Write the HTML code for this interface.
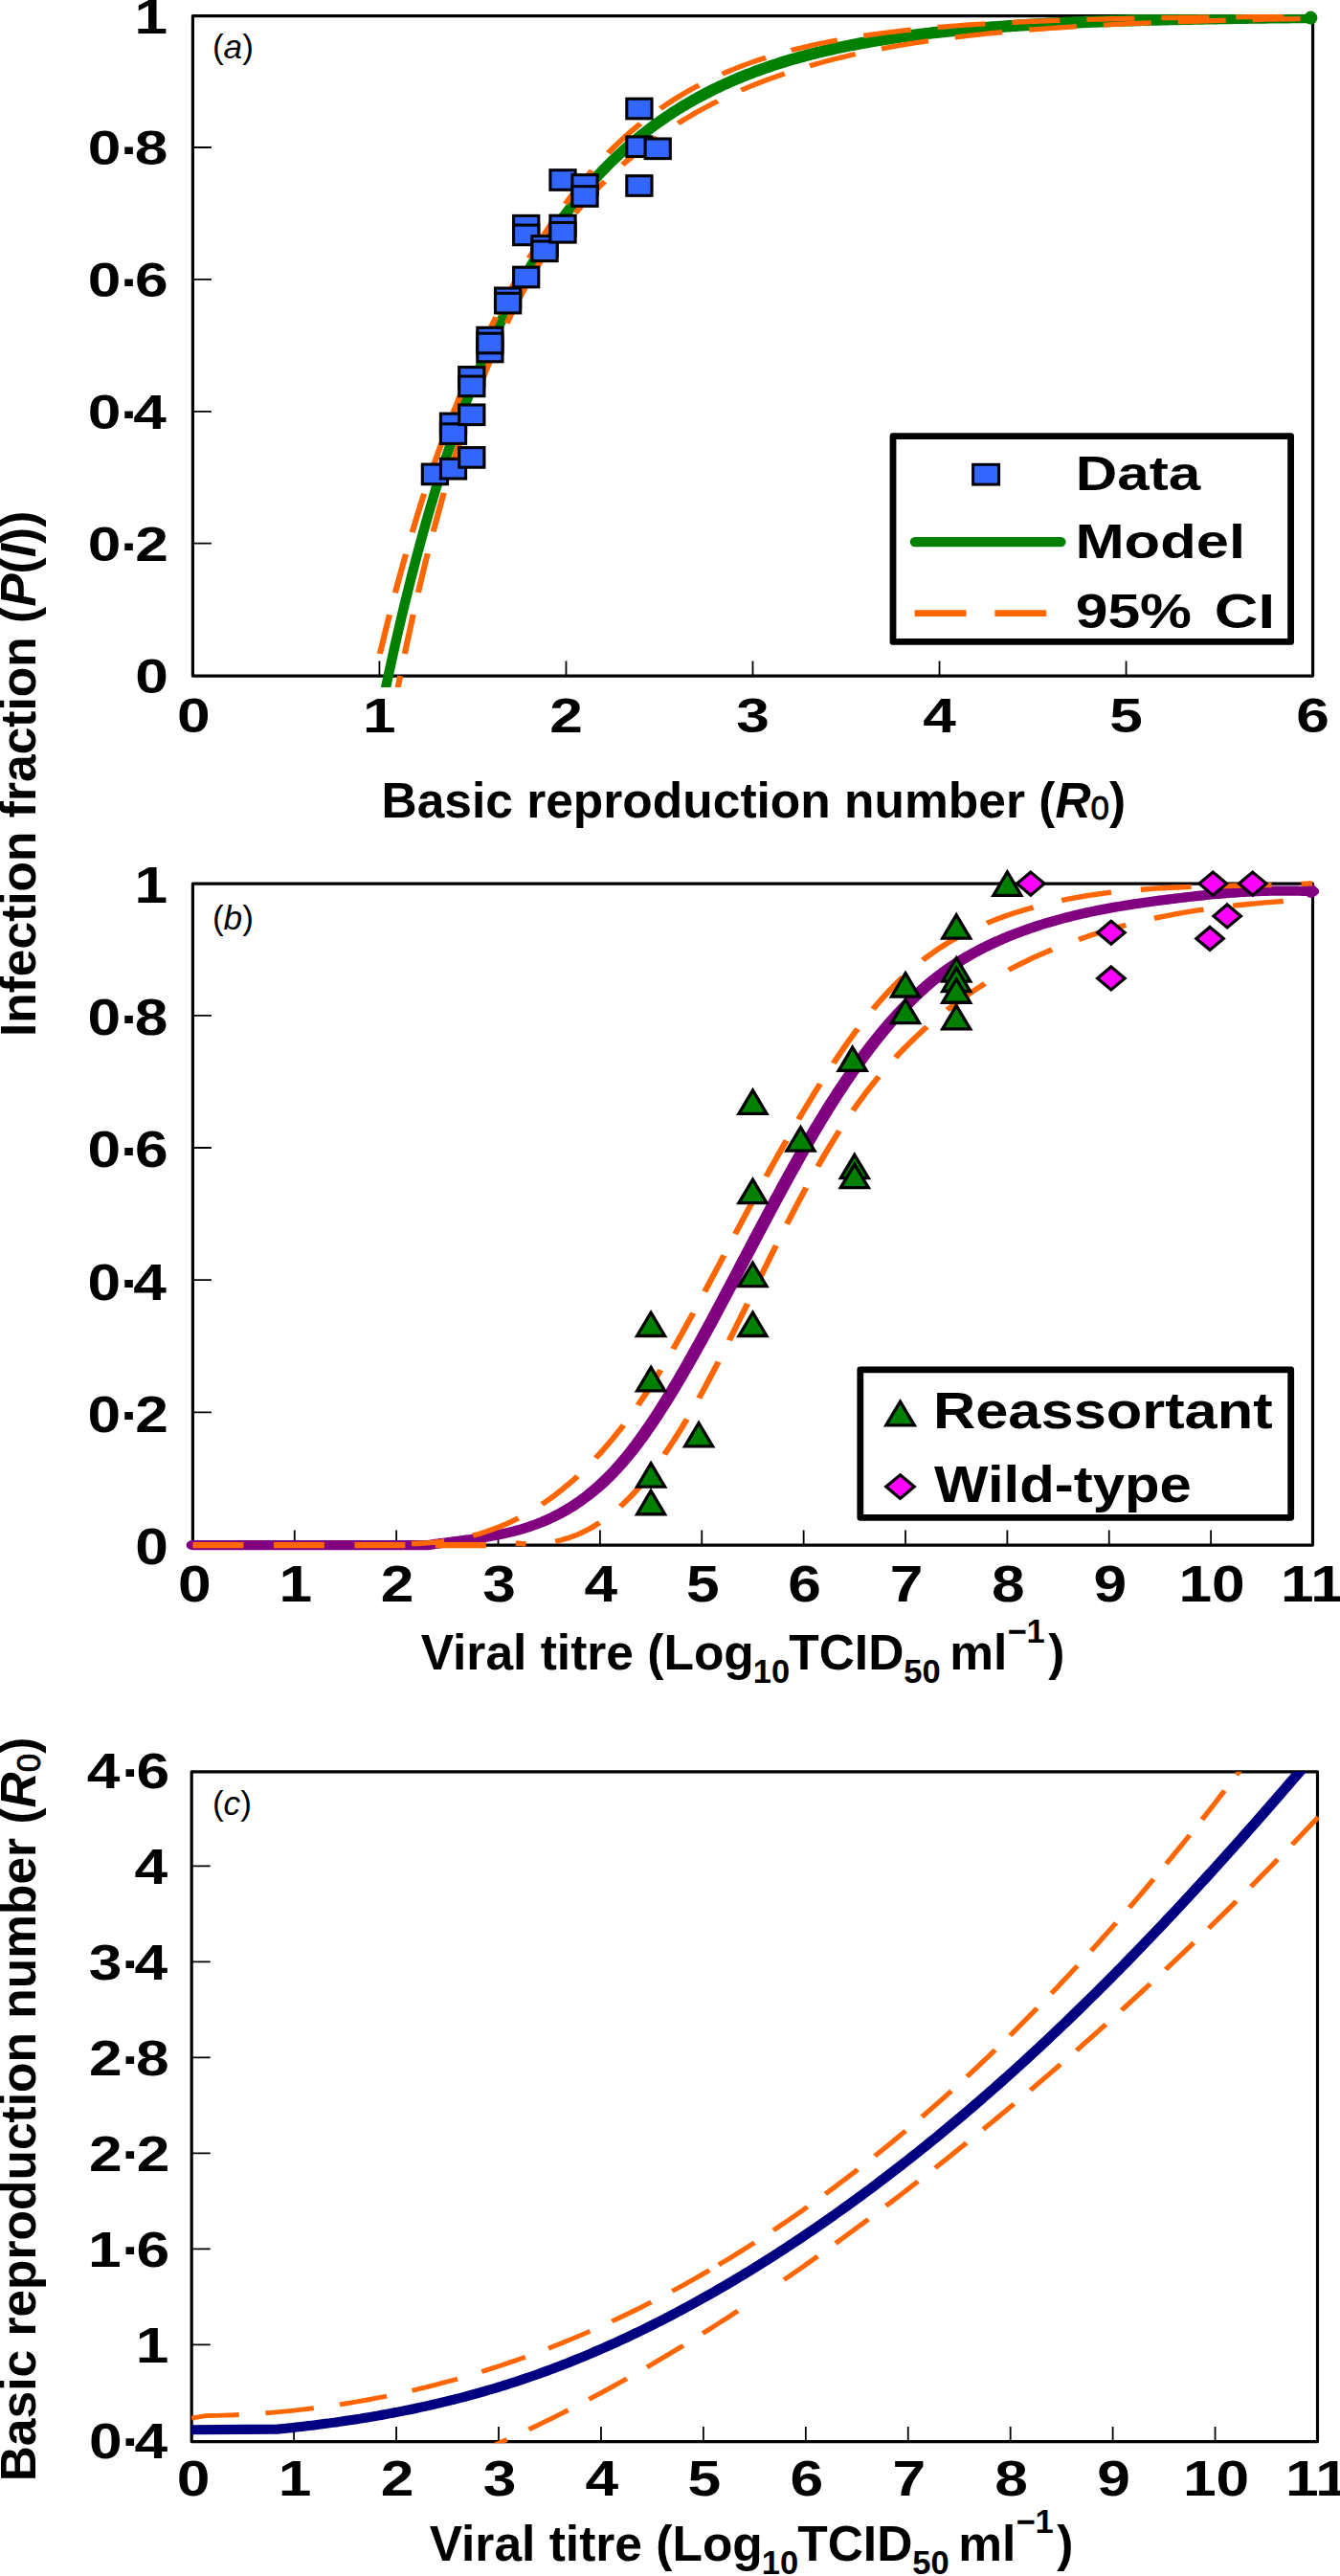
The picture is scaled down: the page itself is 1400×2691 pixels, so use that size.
<!DOCTYPE html>
<html lang="en"><head><meta charset="utf-8"><title>Figure</title>
<style>html,body{margin:0;padding:0;background:#fff}svg{display:block}text{font-family:"Liberation Sans",sans-serif;fill:#000}</style>
</head><body>
<svg width="1400" height="2691" viewBox="0 0 1400 2691">
<rect width="1400" height="2691" fill="#fff"/>
<g id="panel-a">
<path d="M201.4,567.7h19.5M201.4,429.8h19.5M201.4,291.9h19.5M201.4,154h19.5M396.43,706.1v-15.5M591.47,706.1v-15.5M786.5,706.1v-15.5M981.53,706.1v-15.5M1176.57,706.1v-15.5" stroke="#000" stroke-width="1.8" fill="none"/>
<rect x="201.4" y="16.6" width="1170.2" height="689.5" fill="none" stroke="#000" stroke-width="3.15" stroke-linejoin="round"/>
<clipPath id="clipa"><rect x="195" y="14.9" width="1185" height="703.1"/></clipPath>
<g clip-path="url(#clipa)">
<path d="M480.95,736.94L483.74,725.74L486.53,714.72L489.32,703.87L492.12,693.19L494.92,682.67L497.72,672.32L500.52,662.13L503.32,652.09L506.13,642.22L508.94,632.49L511.75,622.92L514.56,613.5L517.38,604.22L520.19,595.09L523.01,586.1L525.83,577.25L528.66,568.53L531.48,559.95L534.31,551.51L537.14,543.2L539.97,535.01L542.8,526.95L545.63,519.02L548.47,511.21L551.31,503.53L554.19,495.96L557.14,488.51L560.08,481.17L563.02,473.95L565.97,466.85L568.91,459.85L571.86,452.96L574.8,446.18L577.75,439.5L580.69,432.93L583.64,426.46L586.58,420.09L589.53,413.82L592.47,407.64L595.41,401.56L598.36,395.58L601.3,389.69L604.25,383.89L607.19,378.18L610.14,372.56L613.08,367.03L616.03,361.59L618.97,356.22L621.92,350.94L624.86,345.75L627.81,340.63L630.75,335.6L633.69,330.64L636.64,325.76L639.58,320.95L642.53,316.22L645.47,311.57L648.42,306.98L651.36,302.47L654.31,298.03L657.25,293.65L660.2,289.35L663.14,285.11L666.09,280.93L669.03,276.82L671.97,272.78L674.92,268.8L677.86,264.88L680.81,261.02L683.75,257.22L686.7,253.48L689.64,249.8L692.59,246.18L695.53,242.61L698.48,239.1L701.42,235.64L704.37,232.23L707.31,228.88L710.25,225.58L713.2,222.33L716.14,219.14L719.09,215.99L722.03,212.89L724.98,209.84L727.92,206.84L730.87,203.88L733.81,200.97L736.76,198.1L739.7,195.28L742.65,192.5L745.59,189.77L748.53,187.08L751.48,184.43L754.42,181.82L757.37,179.25L760.31,176.73L763.26,174.24L766.2,171.79L769.15,169.37L772.09,167L775.04,164.66L777.98,162.36L780.93,160.1L783.87,157.87L786.81,155.67L789.76,153.51L792.7,151.38L795.65,149.29L798.59,147.22L801.54,145.19L804.48,143.2L807.43,141.23L810.37,139.29L813.32,137.38L816.26,135.51L819.21,133.66L822.15,131.84L825.09,130.05L828.04,128.28L830.98,126.55L833.93,124.84L836.87,123.16L839.82,121.5L842.76,119.87L845.71,118.27L848.65,116.69L851.6,115.13L854.54,113.6L857.49,112.09L860.43,110.61L863.37,109.15L866.32,107.71L869.26,106.29L872.21,104.9L875.15,103.53L878.1,102.17L881.04,100.84L883.99,99.54L886.93,98.25L889.88,96.98L892.82,95.73L895.77,94.5L898.71,93.29L901.65,92.1L904.6,90.92L907.54,89.77L910.49,88.63L913.43,87.51L916.38,86.41L919.32,85.32L922.27,84.26L925.21,83.2L928.16,82.17L931.1,81.15L934.05,80.15L936.99,79.16L939.93,78.19L942.88,77.23L945.82,76.29L948.77,75.36L951.71,74.45L954.66,73.55L957.6,72.66L960.55,71.79L963.49,70.93L966.44,70.09L969.38,69.26L972.33,68.44L975.27,67.63L978.21,66.84L981.16,66.06L984.1,65.29L987.05,64.53L989.99,63.79L992.94,63.06L995.88,62.33L998.83,61.62L1001.77,60.92L1004.72,60.23L1007.66,59.56L1010.61,58.89L1013.55,58.23L1016.49,57.58L1019.44,56.95L1022.38,56.32L1025.33,55.7L1028.27,55.09L1031.22,54.5L1034.16,53.91L1037.11,53.33L1040.05,52.76L1043,52.19L1045.94,51.64L1048.88,51.1L1051.83,50.56L1054.77,50.03L1057.72,49.51L1060.66,49L1063.61,48.5L1066.55,48L1069.5,47.51L1072.44,47.03L1075.39,46.56L1078.33,46.1L1081.28,45.64L1084.22,45.19L1087.16,44.74L1090.11,44.3L1093.05,43.87L1096,43.45L1098.94,43.03L1101.89,42.62L1104.83,42.22L1107.78,41.82L1110.72,41.43L1113.67,41.04L1116.61,40.66L1119.56,40.29L1122.5,39.92L1125.44,39.56L1128.39,39.2L1131.33,38.85L1134.28,38.5L1137.22,38.16L1140.17,37.83L1143.11,37.5L1146.06,37.17L1149,36.85L1151.95,36.54L1154.89,36.23L1157.84,35.92L1160.78,35.62L1163.72,35.33L1166.67,35.04L1169.61,34.75L1172.56,34.47L1175.5,34.19L1178.45,33.92L1181.39,33.65L1184.34,33.38L1187.28,33.12L1190.23,32.86L1193.17,32.61L1196.12,32.36L1199.06,32.12L1202,31.88L1204.95,31.64L1207.89,31.41L1210.84,31.18L1213.78,30.95L1216.73,30.73L1219.67,30.51L1222.62,30.29L1225.56,30.08L1228.51,29.87L1231.45,29.66L1234.4,29.46L1237.34,29.26L1240.28,29.06L1243.23,28.87L1246.17,28.68L1249.12,28.49L1252.06,28.31L1255.01,28.12L1257.95,27.94L1260.9,27.77L1263.84,27.59L1266.79,27.42L1269.73,27.26L1272.68,27.09L1275.62,26.93L1278.56,26.77L1281.51,26.61L1284.45,26.45L1287.4,26.3L1290.34,26.15L1293.29,26L1296.23,25.85L1299.18,25.71L1302.12,25.57L1305.07,25.43L1308.01,25.29L1310.96,25.16L1313.9,25.02L1316.84,24.89L1319.79,24.76L1322.73,24.64L1325.68,24.51L1328.62,24.39L1331.57,24.27L1334.51,24.15L1337.46,24.03L1340.4,23.92L1343.35,23.8L1346.29,23.69L1349.24,23.58L1352.18,23.47L1355.12,23.37L1358.07,23.26L1361.01,23.16L1363.96,23.05L1366.9,22.95L1369.85,22.86L1372.79,22.76L1375.74,22.66L1378.68,22.57L1381.63,22.48L1384.57,22.38L1387.52,22.29L1390.46,22.21L1393.4,22.12L1396.35,22.03L1399.29,21.95L1402.24,21.87L1405.18,21.78L1408.13,21.7L1411.07,21.62L1414.02,21.55L1416.96,21.47L1419.91,21.39L1422.85,21.32L1425.8,21.25L1428.74,21.17L1431.68,21.1L1434.63,21.03L1437.57,20.96L1440.52,20.9L1443.46,20.83L1446.41,20.76L1449.35,20.7L1452.3,20.63L1455.24,20.57L1458.19,20.51L1461.13,20.45L1464.08,20.39L1467.02,20.33L1469.96,20.27L1472.91,20.22L1475.85,20.16L1478.8,20.1L1481.74,20.05L1484.69,20L1487.63,19.94L1490.58,19.89L1493.52,19.84L1496.47,19.79L1499.41,19.74L1502.35,19.69L1505.3,19.64L1508.24,19.6L1511.19,19.55L1514.13,19.5L1517.08,19.46L1520.02,19.41L1522.97,19.37L1525.91,19.33L1528.86,19.28L1531.8,19.24L1534.75,19.2L1537.69,19.16L1540.63,19.12L1543.58,19.08L1546.52,19.04L1549.47,19.01L1552.41,18.97L1555.36,18.93L1558.3,18.9L1561.25,18.86L1564.19,18.82L1567.14,18.79L1570.08,18.76L1573.03,18.72L1575.97,18.69L1578.91,18.66L1581.86,18.63L1584.8,18.59L1587.75,18.56L1590.69,18.53L1593.64,18.5L1596.58,18.47L1599.53,18.44L1602.47,18.41L1605.42,18.39L1608.36,18.36L1611.31,18.33L1614.25,18.3L1617.19,18.28L1620.14,18.25L1623.08,18.23L1626.03,18.2L1628.97,18.18L1631.92,18.15L1634.86,18.13L1637.81,18.1L1640.75,18.08L1643.7,18.06L1646.64,18.03L1649.59,18.01L1652.53,17.99" transform="scale(0.83,1)" fill="none" stroke="#008000" stroke-width="12.3" stroke-linecap="butt" stroke-linejoin="round"/>
<path d="M330.75,683L331.31,680.2L332.87,672.46L334.43,664.8L335.98,657.24L337.54,649.76L339.11,642.36L339.14,642.19M344.08,619.38L345.37,613.62L346.93,606.64L348.49,599.74L350.07,592.91L351.63,586.17L353.2,579.5L353.38,578.77M358.87,556.09L359.48,553.57L361.06,547.28L362.63,541.05L365.78,528.81L367.35,522.79L368.93,516.84L369.23,515.73M375.43,493.24L376.93,488.09L378.56,482.53L380.19,477.04L383.46,466.23L385.09,460.92L386.73,455.67L387.46,453.35M394.61,431.14L394.89,430.27L398.16,420.51L399.79,415.71L403.06,406.26L404.69,401.62L407.96,392.48L408.23,391.76M416.37,369.89L417.76,366.26L421.03,357.89L422.66,353.78L425.93,345.69L427.56,341.7L430.83,333.87L431.94,331.25M433.06,328.63L435.73,322.43L437.36,318.7L440.63,311.36L442.27,307.75L445.53,300.64L447.17,297.14L450.23,290.67M460.6,269.77L463.5,264.16L466.77,257.93L470.03,251.8L471.67,248.77L474.93,242.79L478.2,236.91L480.36,233.09M492.22,212.99L494.53,209.24L497.8,204.05L501.07,198.99L505.97,191.62L509.23,186.85L512.5,182.2L515.3,178.31M529.52,159.82L533.73,154.74L537,150.93L541.9,145.39L545.17,141.82L550.07,136.64L553.33,133.31L557.62,129.08M574.92,113.45L579.47,109.71L584.37,105.84L589.27,102.13L594.17,98.58L599.08,95.17L603.98,91.9L608.58,88.94M628.8,77.3L633.38,74.93L639.91,71.71L644.81,69.41L651.34,66.5L656.24,64.42L662.78,61.78L666.78,60.23M688.83,52.61L693.81,51.09L698.71,49.65L705.24,47.82L711.77,46.09L718.31,44.46L723.21,43.3L729.1,41.97M751.98,37.38L757.52,36.41L762.42,35.58L768.95,34.53L775.48,33.54L782.02,32.6L786.92,31.93L793.17,31.12M816.35,28.46L822.85,27.81L827.75,27.34L834.28,26.75L840.82,26.19L847.35,25.66L852.25,25.28L857.86,24.86M881.14,23.35L886.55,23.04L893.08,22.68L899.62,22.34L904.52,22.1L911.06,21.8L917.59,21.51L922.76,21.29M946.08,20.43L951.89,20.24L956.79,20.09L963.33,19.9L969.86,19.71L976.39,19.54L981.29,19.42L987.73,19.27M1011.06,18.77L1017.23,18.66L1022.12,18.57L1028.66,18.47L1035.19,18.36L1041.72,18.26L1046.62,18.2L1052.72,18.11M1076.05,17.83L1082.57,17.77L1087.47,17.72L1094,17.66L1100.53,17.6L1107.07,17.54L1111.97,17.5L1117.71,17.46M1141.04,17.3L1141.37,17.3L1143,17.29" transform="scale(1.2,1)" fill="none" stroke="#FF6600" stroke-width="5.2"/>
<path d="M342.47,742.67L343.98,733.17L345.5,723.8L347.03,714.55L348.45,706M352.38,683L353.11,678.77L354.63,670.12L356.17,661.59L357.69,653.17L359.22,644.87L359.76,641.99M364.11,619.07L365.34,612.73L366.88,604.97L368.42,597.31L369.95,589.75L371.48,582.29L372.33,578.22M377.22,555.41L377.64,553.44L379.18,546.47L380.73,539.6L382.28,532.81L383.82,526.12L385.36,519.52L386.48,514.78M392.08,492.13L393.21,487.82L394.82,481.73L396.43,475.73L399.64,463.97L401.26,458.21L402.87,452.53L403.03,451.93M419.28,398.84L420.56,394.93L423.78,385.36L425.39,380.68L427,376.06L428.61,371.51L431.83,362.59L432.97,359.49M441.32,337.7L443.09,333.28L444.7,329.32L447.92,321.57L451.13,314.03L454.35,306.71L455.96,303.12L457.67,299.38M467.79,278.36L470.44,273.21L473.66,267.16L476.88,261.3L480.09,255.62L483.32,250.12L486.53,244.79L488.22,242.06M501.03,222.57L504.23,218.04L509.06,211.4L512.28,207.12L515.49,202.94L518.71,198.87L523.54,192.94L526.4,189.53M541.97,172.15L546.07,167.89L550.89,163.02L555.72,158.32L558.93,155.28L563.77,150.84L568.59,146.54L572.15,143.46M590.35,128.86L594.33,125.89L600.77,121.27L605.6,117.94L610.43,114.71L615.25,111.59L621.68,107.58L624.92,105.63M645.3,94.28L650.65,91.55L655.48,89.17L661.91,86.11L666.74,83.9L673.17,81.07L678,79.02L683.15,76.91M705,68.72L710.18,66.95L715.01,65.35L721.44,63.3L727.88,61.34L734.32,59.45L739.14,58.09L744.84,56.55M767.49,50.94L772.93,49.72L779.37,48.33L785.8,46.99L790.63,46.03L797.07,44.79L803.5,43.61L808.33,42.75M831.37,39.03L837.29,38.16L842.12,37.47L848.56,36.6L854.99,35.76L861.43,34.95L866.25,34.37L872.68,33.62M895.89,31.18L901.65,30.63L908.08,30.04L914.53,29.48L919.35,29.07L925.78,28.55L932.23,28.05L937.4,27.66M960.68,26.07L966.01,25.74L972.45,25.35L978.88,24.99L983.71,24.72L990.14,24.38L996.58,24.05L1002.28,23.77M1025.6,22.74L1031.98,22.49L1036.81,22.3L1043.24,22.06L1049.67,21.83L1056.12,21.61L1060.94,21.45L1067.23,21.25M1090.56,20.58L1096.34,20.43L1102.78,20.27L1109.21,20.12L1114.04,20.01L1120.47,19.86L1126.91,19.73L1132.22,19.62" transform="scale(1.2,1)" fill="none" stroke="#FF6600" stroke-width="5.2"/>
</g>
<circle cx="1369.4" cy="18.6" r="7" fill="#008000"/>
<defs><rect id="sq" x="-13.1" y="-10.3" width="26.2" height="20.6" fill="#3366FF" stroke="#000" stroke-width="3.1"/></defs>
<use href="#sq" x="454.4" y="495.4"/><use href="#sq" x="473.5" y="489.7"/><use href="#sq" x="473.5" y="442.4"/><use href="#sq" x="473.5" y="453.1"/><use href="#sq" x="492.8" y="477.9"/><use href="#sq" x="492.8" y="433.3"/><use href="#sq" x="492.8" y="393.9"/><use href="#sq" x="492.8" y="403.4"/><use href="#sq" x="511.9" y="352.6"/><use href="#sq" x="511.9" y="367.5"/><use href="#sq" x="511.9" y="358.5"/><use href="#sq" x="530.6" y="311.3"/><use href="#sq" x="530.6" y="316.6"/><use href="#sq" x="549.7" y="289.5"/><use href="#sq" x="549.7" y="235.7"/><use href="#sq" x="549.7" y="245.4"/><use href="#sq" x="569" y="257"/><use href="#sq" x="569" y="262.3"/><use href="#sq" x="588" y="188"/><use href="#sq" x="588" y="235.5"/><use href="#sq" x="588" y="242.8"/><use href="#sq" x="611" y="193"/><use href="#sq" x="611" y="205"/><use href="#sq" x="667.9" y="113.5"/><use href="#sq" x="667.9" y="153.2"/><use href="#sq" x="667.9" y="194"/><use href="#sq" x="687.2" y="155.3"/>
<rect x="933" y="455.7" width="415.6" height="214.7" fill="#fff" stroke="#000" stroke-width="6.8" stroke-linejoin="round"/>
<rect x="1016.6" y="485.3" width="27" height="20.8" fill="#3366FF" stroke="#000" stroke-width="3"/>
<path d="M955.9,566.1H1108.4" stroke="#008000" stroke-width="10.4" stroke-linecap="round"/>
<path d="M955.6,640.6H1009.5M1039.4,640.6H1093.2" stroke="#FF6600" stroke-width="6.6"/>
<text transform="translate(1123.68,511.9) scale(1.195,1)" font-size="50.4" font-weight="bold">Data</text>
<text transform="translate(1123.4,583.4) scale(1.220,1)" font-size="50.4" font-weight="bold">Model</text>
<text transform="translate(1123.68,655.9) scale(1.203,1)" font-size="50.4" font-weight="bold">95%</text>
<text transform="translate(1268.67,655.9) scale(1.257,1)" font-size="50.4" font-weight="bold">CI</text>
<text transform="translate(141.34,724) scale(1.240,1)" font-size="50.2" font-weight="bold">0</text>
<text transform="translate(141.34,586.1) scale(1.240,1)" font-size="50.2" font-weight="bold">2</text>
<text transform="translate(125.9,587.6) scale(1.224,1)" font-size="50.2" font-weight="bold">·</text>
<text transform="translate(91.64,586.1) scale(1.240,1)" font-size="50.2" font-weight="bold">0</text>
<text transform="translate(139.16,448.2) scale(1.240,1)" font-size="50.2" font-weight="bold">4</text>
<text transform="translate(125.9,449.7) scale(1.224,1)" font-size="50.2" font-weight="bold">·</text>
<text transform="translate(91.64,448.2) scale(1.240,1)" font-size="50.2" font-weight="bold">0</text>
<text transform="translate(141.03,310.3) scale(1.240,1)" font-size="50.2" font-weight="bold">6</text>
<text transform="translate(125.9,311.8) scale(1.224,1)" font-size="50.2" font-weight="bold">·</text>
<text transform="translate(91.64,310.3) scale(1.240,1)" font-size="50.2" font-weight="bold">0</text>
<text transform="translate(140.72,172.4) scale(1.240,1)" font-size="50.2" font-weight="bold">8</text>
<text transform="translate(125.9,173.9) scale(1.224,1)" font-size="50.2" font-weight="bold">·</text>
<text transform="translate(91.64,172.4) scale(1.240,1)" font-size="50.2" font-weight="bold">0</text>
<text transform="translate(140.41,34.5) scale(1.240,1)" font-size="50.2" font-weight="bold">1</text>
<text transform="translate(185.09,765) scale(1.240,1)" font-size="50.2" font-weight="bold">0</text>
<text transform="translate(379.12,765) scale(1.240,1)" font-size="50.2" font-weight="bold">1</text>
<text transform="translate(574.16,765) scale(1.240,1)" font-size="50.2" font-weight="bold">2</text>
<text transform="translate(769.19,765) scale(1.240,1)" font-size="50.2" font-weight="bold">3</text>
<text transform="translate(964.22,765) scale(1.240,1)" font-size="50.2" font-weight="bold">4</text>
<text transform="translate(1159.26,765) scale(1.240,1)" font-size="50.2" font-weight="bold">5</text>
<text transform="translate(1354.29,765) scale(1.240,1)" font-size="50.2" font-weight="bold">6</text>
<text x="221.9" y="60.5" font-size="35.2">(<tspan font-style="italic">a</tspan>)</text>
<text transform="translate(398.45,853.5) scale(1,1.0)" font-size="51.5" font-weight="bold">Basic reproduction number (<tspan font-style="italic">R</tspan><tspan font-size="35" font-weight="normal" stroke="#000" stroke-width="0.8" dy="2.4">0</tspan><tspan dy="-2.4">)</tspan></text>
</g>
<text transform="translate(37.4,1083.05) rotate(-90) scale(1,1.0)" font-size="51.5" font-weight="bold">Infection fraction (<tspan font-style="italic">P</tspan>(<tspan font-style="italic">I</tspan>))</text>
<g id="panel-b">
<path d="M201.4,1475.4h19.5M201.4,1337.2h19.5M201.4,1199h19.5M201.4,1060.8h19.5M307.77,1614.1v-15.5M414.15,1614.1v-15.5M520.52,1614.1v-15.5M626.89,1614.1v-15.5M733.26,1614.1v-15.5M839.64,1614.1v-15.5M946.01,1614.1v-15.5M1052.38,1614.1v-15.5M1158.75,1614.1v-15.5M1265.13,1614.1v-15.5" stroke="#000" stroke-width="1.8" fill="none"/>
<rect x="201.4" y="923.1" width="1170.1" height="691" fill="none" stroke="#000" stroke-width="3.15" stroke-linejoin="round"/>
<path d="M149.19,1614.1L329.48,1614.1L331.45,1614.04L333.41,1613.64L335.38,1613.24L337.35,1612.86L339.31,1612.49L341.28,1612.12L343.25,1611.76L345.21,1611.41L347.18,1611.06L349.15,1610.72L351.11,1610.37L353.08,1610.03L355.05,1609.69L357.01,1609.34L358.98,1608.99L360.94,1608.63L362.91,1608.27L364.88,1607.91L366.84,1607.53L368.81,1607.15L370.78,1606.75L372.74,1606.34L374.71,1605.92L376.68,1605.49L378.64,1605.03L380.61,1604.57L382.58,1604.08L384.54,1603.57L386.51,1603.04L388.48,1602.5L390.44,1601.92L392.41,1601.32L394.37,1600.7L396.34,1600.05L398.31,1599.37L400.27,1598.66L402.24,1597.92L404.21,1597.15L406.17,1596.35L408.14,1595.51L410.11,1594.63L412.07,1593.72L414.04,1592.77L416.01,1591.78L417.97,1590.74L419.94,1589.67L421.91,1588.55L423.87,1587.39L425.84,1586.18L427.8,1584.93L429.77,1583.62L431.74,1582.27L433.7,1580.87L435.67,1579.41L437.64,1577.9L439.6,1576.34L441.57,1574.72L443.54,1573.04L445.5,1571.3L447.47,1569.51L449.44,1567.65L451.4,1565.73L453.37,1563.75L455.34,1561.7L457.3,1559.59L459.27,1557.41L461.23,1555.16L463.2,1552.84L465.17,1550.45L467.13,1547.99L469.1,1545.45L471.07,1542.84L473.03,1540.15L475,1537.39L476.97,1534.55L478.93,1531.62L480.9,1528.62L482.87,1525.54L484.83,1522.37L486.8,1519.12L488.77,1515.79L490.73,1512.38L492.7,1508.89L494.66,1505.33L496.63,1501.7L498.6,1497.99L500.56,1494.22L502.53,1490.37L504.5,1486.47L506.46,1482.5L508.43,1478.46L510.4,1474.37L512.36,1470.22L514.33,1466.01L516.3,1461.75L518.26,1457.44L520.23,1453.07L522.2,1448.66L524.16,1444.2L526.13,1439.69L528.09,1435.14L530.06,1430.55L532.03,1425.91L533.99,1421.24L535.96,1416.54L537.93,1411.8L539.89,1407.03L541.86,1402.22L543.83,1397.39L545.79,1392.53L547.76,1387.65L549.73,1382.74L551.69,1377.81L553.66,1372.86L555.62,1367.89L557.59,1362.91L559.56,1357.92L561.52,1352.91L563.49,1347.89L565.46,1342.86L567.42,1337.82L569.39,1332.78L571.36,1327.73L573.32,1322.68L575.29,1317.63L577.26,1312.58L579.22,1307.53L581.19,1302.48L583.16,1297.43L585.12,1292.39L587.09,1287.36L589.05,1282.34L591.02,1277.32L592.99,1272.32L594.95,1267.33L596.92,1262.35L598.89,1257.39L600.85,1252.45L602.82,1247.53L604.79,1242.62L606.75,1237.74L608.72,1232.88L610.69,1228.05L612.65,1223.24L614.62,1218.46L616.59,1213.71L618.55,1208.99L620.52,1204.3L622.48,1199.64L624.45,1195.02L626.42,1190.44L628.38,1185.89L630.35,1181.38L632.32,1176.92L634.28,1172.49L636.25,1168.11L638.22,1163.77L640.18,1159.48L642.15,1155.24L644.12,1151.04L646.08,1146.89L648.05,1142.79L650.02,1138.74L651.98,1134.73L653.95,1130.77L655.91,1126.86L657.88,1122.99L659.85,1119.18L661.81,1115.41L663.78,1111.69L665.75,1108.02L667.71,1104.39L669.68,1100.82L671.65,1097.3L673.61,1093.82L675.58,1090.4L677.55,1087.02L679.51,1083.7L681.48,1080.42L683.45,1077.2L685.41,1074.02L687.38,1070.9L689.34,1067.82L691.31,1064.8L693.28,1061.83L695.24,1058.91L697.21,1056.04L699.18,1053.22L701.14,1050.46L703.11,1047.75L705.08,1045.08L707.04,1042.47L709.01,1039.92L710.98,1037.41L712.94,1034.96L714.91,1032.57L716.88,1030.22L718.84,1027.93L720.81,1025.69L722.77,1023.51L724.74,1021.38L726.71,1019.29L728.67,1017.27L730.64,1015.28L732.61,1013.35L734.57,1011.47L736.54,1009.63L738.51,1007.84L740.47,1006.09L742.44,1004.38L744.41,1002.72L746.37,1001.09L748.34,999.51L750.3,997.96L752.27,996.45L754.24,994.98L756.2,993.55L758.17,992.14L760.14,990.77L762.1,989.44L764.07,988.13L766.04,986.86L768,985.61L769.97,984.39L771.94,983.2L773.9,982.03L775.87,980.89L777.84,979.77L779.8,978.67L781.77,977.6L783.73,976.54L785.7,975.51L787.67,974.49L789.63,973.49L791.6,972.52L793.57,971.56L795.53,970.62L797.5,969.7L799.47,968.79L801.43,967.91L803.4,967.04L805.37,966.19L807.33,965.36L809.3,964.54L811.27,963.74L813.23,962.95L815.2,962.18L817.16,961.43L819.13,960.69L821.1,959.97L823.06,959.26L825.03,958.57L827,957.89L828.96,957.22L830.93,956.57L832.9,955.93L834.86,955.31L836.83,954.69L838.8,954.09L840.76,953.51L842.73,952.93L844.7,952.37L846.66,951.82L848.63,951.28L850.59,950.75L852.56,950.23L854.53,949.72L856.49,949.22L858.46,948.73L860.43,948.25L862.39,947.78L864.36,947.32L866.33,946.87L868.29,946.43L870.26,945.99L872.23,945.57L874.19,945.15L876.16,944.73L878.13,944.33L880.09,943.93L882.06,943.54L884.02,943.16L885.99,942.78L887.96,942.41L889.92,942.04L891.89,941.68L893.86,941.32L895.82,940.97L897.79,940.62L899.76,940.28L901.72,939.94L903.69,939.6L905.66,939.27L907.62,938.94L909.59,938.62L911.56,938.29L913.52,937.98L915.49,937.66L917.45,937.36L919.42,937.05L921.39,936.75L923.35,936.46L925.32,936.17L927.29,935.89L929.25,935.61L931.22,935.34L933.19,935.07L935.15,934.81L937.12,934.56L939.09,934.31L941.05,934.06L943.02,933.83L944.99,933.6L946.95,933.38L948.92,933.16L950.88,932.96L952.85,932.76L954.82,932.56L956.78,932.38L958.75,932.2L960.72,932.03L962.68,931.87L964.65,931.72L966.62,931.57L968.58,931.44L970.55,931.31L972.52,931.19L974.48,931.09L976.45,930.99L978.41,930.9L980.38,930.82L982.35,930.75L984.31,930.69L986.28,930.64L988.25,930.6L990.21,930.57L992.18,930.55L994.15,930.54L996.11,930.55L998.08,930.56L1000.05,930.59L1002.01,930.63L1003.98,930.67L1005.95,930.74L1007.91,930.81L1009.88,930.89L1011.84,930.99L1013.81,931.1L1015.78,931.22" transform="scale(1.35,1)" fill="none" stroke="#800080" stroke-width="10.2" stroke-linecap="round" stroke-linejoin="round"/>
<circle cx="1369.6" cy="930.9" r="7" fill="#800080"/>
<path d="M201.4,1614.1L254.4,1614.1M285.9,1614.1L338.9,1614.1M370.4,1614.1L423.4,1614.1M454.9,1614.1L507.9,1614.1" transform="scale(1.0,1)" fill="none" stroke="#FF6600" stroke-width="6.4"/>
<path d="M364.41,1612.58L368.97,1612.44L373.55,1612.21L378.12,1611.88L380.4,1611.67L384.97,1611.19L389.54,1610.61L393.38,1610.03M418.81,1604.09L423.81,1602.45L428.39,1600.81L435.24,1598.08L442.09,1595.01L448.95,1591.59L453.52,1589.1L458.96,1585.93M479.89,1571.43L483.23,1568.77L487.8,1564.95L492.36,1560.94L499.22,1554.54L503.79,1550.03L508.36,1545.3L511.31,1542.13M527.46,1523.18L531.21,1518.38L533.49,1515.37L538.07,1509.19L542.64,1502.76L547.2,1496.09L549.49,1492.66L552.02,1488.8M564.92,1467.87L565.48,1466.9L570.05,1458.96L572.34,1454.89L576.91,1446.54L579.19,1442.28L583.76,1433.56L585.02,1431.13M595.95,1409.28L597.47,1406.15L602.04,1396.65L604.33,1391.84L606.62,1386.99L608.9,1382.12L613.47,1372.27L613.79,1371.58M623.91,1349.4L624.9,1347.22L629.47,1337.08L631.75,1332L634.03,1326.9L636.32,1321.8L640.89,1311.58L640.97,1311.4M650.93,1289.16L652.31,1286.09L654.6,1281.02L656.88,1275.96L661.46,1265.87L663.74,1260.85L666.03,1255.84L668.14,1251.21M678.37,1229.08L679.74,1226.15L684.31,1216.41L686.58,1211.58L688.87,1206.76L691.16,1201.97L695.73,1192.47L696.25,1191.39M707.03,1169.47L707.15,1169.21L711.72,1160.11L714.01,1155.61L718.58,1146.72L720.86,1142.32L725.43,1133.65L726.15,1132.3M737.91,1110.8L739.14,1108.6L743.71,1100.6L746,1096.67L750.57,1088.96L752.86,1085.18L757.42,1077.78L759.36,1074.71M773.02,1054.19L775.7,1050.4L780.27,1044.16L784.84,1038.17L787.13,1035.28L791.69,1029.69L796.27,1024.34L799.32,1020.92M816.95,1003.11L821.41,999.12L828.25,993.34L832.83,989.73L837.4,986.29L841.97,983.03L848.82,978.44L851.38,976.82M873.84,964.38L878.53,962.15L883.09,960.07L889.95,957.11L896.81,954.34L903.66,951.74L908.23,950.1L914.91,947.84M939.97,940.63L944.79,939.46L951.64,937.91L958.5,936.49L965.36,935.18L972.21,933.99L979.07,932.91L983.9,932.21M1009.97,929.21L1015.63,928.71L1022.48,928.18L1029.34,927.7L1036.19,927.29L1043.04,926.93L1049.9,926.61L1054.77,926.41M1081.03,925.59L1086.46,925.46L1093.31,925.3L1100.17,925.14L1107.03,924.98L1113.88,924.81L1120.74,924.62L1125.92,924.46M1152.17,923.4L1152.72,923.37L1155.01,923.25L1157.3,923.12L1159.58,922.98L1161.86,922.84" transform="scale(1.18,1)" fill="none" stroke="#FF6600" stroke-width="5.4"/>
<path d="M456.61,1611.99L458.63,1612.23L460.65,1612.43L462.67,1612.59L464.69,1612.72L465.69,1612.76M491.72,1610.23L497.03,1608.76L503.08,1606.66L509.15,1604.08L513.19,1602.09L519.25,1598.68L525.31,1594.75L530.81,1590.7M549.32,1573.69L551.58,1571.23L555.63,1566.62L559.67,1561.73L563.71,1556.55L567.75,1551.1L571.8,1545.37L575.28,1540.21M588.27,1519.33L592,1512.86L594.03,1509.27L598.07,1501.92L600.08,1498.15L604.13,1490.46L606.15,1486.53L608.19,1482.51M618.87,1460.56L620.3,1457.54L624.34,1448.81L626.36,1444.39L628.37,1439.91L630.4,1435.4L634.44,1426.27L636.05,1422.6M645.68,1400.24L646.57,1398.15L650.6,1388.59L652.63,1383.78L654.64,1378.96L656.67,1374.13L660.71,1364.43L661.77,1361.88M671.1,1339.41L672.83,1335.24L676.87,1325.54L678.9,1320.7L680.92,1315.87L682.94,1311.06L686.98,1301.48L687.17,1301.05M696.76,1278.68L697.08,1277.93L701.13,1268.68L703.14,1264.11L707.19,1255.04L709.21,1250.56L713.25,1241.7L713.74,1240.64M724.14,1218.57L725.37,1216.03L729.42,1207.81L731.44,1203.77L735.47,1195.84L737.5,1191.94L741.54,1184.31L743.14,1181.35M755.25,1160.02L757.7,1155.9L761.75,1149.32L765.79,1142.93L767.81,1139.81L771.86,1133.71L775.9,1127.78L778.08,1124.66M792.86,1104.79L796.1,1100.71L800.14,1095.76L804.19,1090.95L810.25,1084L814.29,1079.53L818.33,1075.18L820.76,1072.62M838.66,1055.03L842.58,1051.45L848.64,1046.11L852.69,1042.67L858.75,1037.7L862.79,1034.5L868.85,1029.86L872,1027.53M893.08,1013.21L897.14,1010.69L903.2,1007.06L909.26,1003.58L915.33,1000.24L921.39,997.04L927.45,993.97L931.51,991.98M955.08,981.38L959.79,979.46L965.85,977.07L971.91,974.78L979.99,971.87L986.06,969.8L992.12,967.82L996.86,966.33M1021.97,959.3L1026.47,958.19L1034.55,956.29L1040.62,954.95L1046.68,953.67L1052.75,952.47L1060.82,950.96L1065.74,950.1M1091.65,946.18L1097.2,945.46L1105.28,944.49L1111.35,943.82L1117.41,943.18L1123.47,942.59L1131.55,941.85L1136.26,941.45" transform="scale(1.18,1)" fill="none" stroke="#FF6600" stroke-width="5.4"/>
<path d="M680.08,1371.11L694.58,1395.51H665.58Z" fill="#008000" stroke="#000" stroke-width="3.3"/>
<path d="M680.08,1428.46L694.58,1452.86H665.58Z" fill="#008000" stroke="#000" stroke-width="3.3"/>
<path d="M680.08,1528.65L694.58,1553.05H665.58Z" fill="#008000" stroke="#000" stroke-width="3.3"/>
<path d="M680.08,1557.33L694.58,1581.73H665.58Z" fill="#008000" stroke="#000" stroke-width="3.3"/>
<path d="M730.07,1486.5L744.57,1510.9H715.57Z" fill="#008000" stroke="#000" stroke-width="3.3"/>
<path d="M786.45,1138.93L800.95,1163.33H771.95Z" fill="#008000" stroke="#000" stroke-width="3.3"/>
<path d="M786.45,1232.21L800.95,1256.62H771.95Z" fill="#008000" stroke="#000" stroke-width="3.3"/>
<path d="M786.45,1319.28L800.95,1343.68H771.95Z" fill="#008000" stroke="#000" stroke-width="3.3"/>
<path d="M786.45,1371.11L800.95,1395.51H771.95Z" fill="#008000" stroke="#000" stroke-width="3.3"/>
<path d="M836.45,1177.63L850.95,1202.03H821.95Z" fill="#008000" stroke="#000" stroke-width="3.3"/>
<path d="M892.82,1206.3L907.32,1230.7H878.32Z" fill="#008000" stroke="#000" stroke-width="3.3"/>
<path d="M892.82,1216.32L907.32,1240.72H878.32Z" fill="#008000" stroke="#000" stroke-width="3.3"/>
<path d="M890.7,1094.01L905.2,1118.41H876.2Z" fill="#008000" stroke="#000" stroke-width="3.3"/>
<path d="M946.01,1016.62L960.51,1041.02H931.51Z" fill="#008000" stroke="#000" stroke-width="3.3"/>
<path d="M946.01,1044.26L960.51,1068.66H931.51Z" fill="#008000" stroke="#000" stroke-width="3.3"/>
<path d="M999.2,955.81L1013.7,980.22H984.7Z" fill="#008000" stroke="#000" stroke-width="3.3"/>
<path d="M999.2,1000.73L1013.7,1025.13H984.7Z" fill="#008000" stroke="#000" stroke-width="3.3"/>
<path d="M999.2,1011.1L1013.7,1035.5H984.7Z" fill="#008000" stroke="#000" stroke-width="3.3"/>
<path d="M999.2,1022.84L1013.7,1047.24H984.7Z" fill="#008000" stroke="#000" stroke-width="3.3"/>
<path d="M999.2,1050.48L1013.7,1074.88H984.7Z" fill="#008000" stroke="#000" stroke-width="3.3"/>
<path d="M1052.38,910.9L1066.88,935.3H1037.88Z" fill="#008000" stroke="#000" stroke-width="3.3"/>
<path d="M1076.85,911.1L1091.1,923.1L1076.85,935.1L1062.6,923.1Z" fill="#FF00FF" stroke="#000" stroke-width="3.2"/>
<path d="M1160.88,962.23L1175.13,974.23L1160.88,986.23L1146.63,974.23Z" fill="#FF00FF" stroke="#000" stroke-width="3.2"/>
<path d="M1160.88,1009.91L1175.13,1021.91L1160.88,1033.91L1146.63,1021.91Z" fill="#FF00FF" stroke="#000" stroke-width="3.2"/>
<path d="M1267.25,911.1L1281.5,923.1L1267.25,935.1L1253,923.1Z" fill="#FF00FF" stroke="#000" stroke-width="3.2"/>
<path d="M1308.74,911.1L1322.99,923.1L1308.74,935.1L1294.49,923.1Z" fill="#FF00FF" stroke="#000" stroke-width="3.2"/>
<path d="M1282.15,944.96L1296.4,956.96L1282.15,968.96L1267.9,956.96Z" fill="#FF00FF" stroke="#000" stroke-width="3.2"/>
<path d="M1264.06,968.45L1278.31,980.45L1264.06,992.45L1249.81,980.45Z" fill="#FF00FF" stroke="#000" stroke-width="3.2"/>
<rect x="898.8" y="1430.9" width="449.9" height="154.4" fill="#fff" stroke="#000" stroke-width="6.8" stroke-linejoin="round"/>
<path d="M940.5,1464.2L955.25,1488.8H925.75Z" fill="#008000" stroke="#000" stroke-width="3.3"/>
<path d="M940.5,1540.8L955.25,1553.1L940.5,1565.4L925.75,1553.1Z" fill="#FF00FF" stroke="#000" stroke-width="3.2"/>
<text transform="translate(974.91,1491.8) scale(1.137,1)" font-size="54" font-weight="bold">Reassortant</text>
<text transform="translate(976,1568.8) scale(1.109,1)" font-size="54" font-weight="bold">Wild-type</text>
<text transform="translate(141.32,1634) scale(1.143,1)" font-size="54.5" font-weight="bold">0</text>
<text transform="translate(141.32,1495.8) scale(1.143,1)" font-size="54.5" font-weight="bold">2</text>
<text transform="translate(125.9,1497.3) scale(1.127,1)" font-size="54.5" font-weight="bold">·</text>
<text transform="translate(91.62,1495.8) scale(1.143,1)" font-size="54.5" font-weight="bold">0</text>
<text transform="translate(139.14,1357.6) scale(1.143,1)" font-size="54.5" font-weight="bold">4</text>
<text transform="translate(125.9,1359.1) scale(1.127,1)" font-size="54.5" font-weight="bold">·</text>
<text transform="translate(91.62,1357.6) scale(1.143,1)" font-size="54.5" font-weight="bold">0</text>
<text transform="translate(141.01,1219.4) scale(1.143,1)" font-size="54.5" font-weight="bold">6</text>
<text transform="translate(125.9,1220.9) scale(1.127,1)" font-size="54.5" font-weight="bold">·</text>
<text transform="translate(91.62,1219.4) scale(1.143,1)" font-size="54.5" font-weight="bold">0</text>
<text transform="translate(140.7,1081.2) scale(1.143,1)" font-size="54.5" font-weight="bold">8</text>
<text transform="translate(125.9,1082.7) scale(1.127,1)" font-size="54.5" font-weight="bold">·</text>
<text transform="translate(91.62,1081.2) scale(1.143,1)" font-size="54.5" font-weight="bold">0</text>
<text transform="translate(140.38,943) scale(1.143,1)" font-size="54.5" font-weight="bold">1</text>
<text transform="translate(186.08,1672.7) scale(1.143,1)" font-size="54.5" font-weight="bold">0</text>
<text transform="translate(291.45,1672.7) scale(1.143,1)" font-size="54.5" font-weight="bold">1</text>
<text transform="translate(397.82,1672.7) scale(1.143,1)" font-size="54.5" font-weight="bold">2</text>
<text transform="translate(504.2,1672.7) scale(1.143,1)" font-size="54.5" font-weight="bold">3</text>
<text transform="translate(610.57,1672.7) scale(1.143,1)" font-size="54.5" font-weight="bold">4</text>
<text transform="translate(716.94,1672.7) scale(1.143,1)" font-size="54.5" font-weight="bold">5</text>
<text transform="translate(823.31,1672.7) scale(1.143,1)" font-size="54.5" font-weight="bold">6</text>
<text transform="translate(929.69,1672.7) scale(1.143,1)" font-size="54.5" font-weight="bold">7</text>
<text transform="translate(1036.06,1672.7) scale(1.143,1)" font-size="54.5" font-weight="bold">8</text>
<text transform="translate(1142.43,1672.7) scale(1.143,1)" font-size="54.5" font-weight="bold">9</text>
<text transform="translate(1231.48,1672.7) scale(1.143,1)" font-size="54.5" font-weight="bold">10</text>
<text transform="translate(1338.07,1672.7) scale(1.143,1)" font-size="54.5" font-weight="bold">11</text>
<text x="221.9" y="970.5" font-size="35.2">(<tspan font-style="italic">b</tspan>)</text>
<text transform="translate(439.64,1744.4) scale(1,1.0)" font-size="51.5" font-weight="bold">Viral titre (Log<tspan font-size="34.5" dy="13.8" dx="-1">10</tspan><tspan dy="-13.8" dx="-1">TCID</tspan><tspan font-size="34.5" dy="13.8">50 </tspan><tspan dy="-13.8">ml</tspan><tspan font-size="34.5" dy="-28.8">−1</tspan><tspan dy="28.8" dx="3.5">)</tspan></text>
</g>
<g id="panel-c">
<path d="M200.2,2449.33h19.5M200.2,2349.36h19.5M200.2,2249.39h19.5M200.2,2149.41h19.5M200.2,2049.44h19.5M200.2,1949.47h19.5M307.14,2550.6v-15.5M414.07,2550.6v-15.5M521.01,2550.6v-15.5M627.95,2550.6v-15.5M734.88,2550.6v-15.5M841.82,2550.6v-15.5M948.75,2550.6v-15.5M1055.69,2550.6v-15.5M1162.63,2550.6v-15.5M1269.56,2550.6v-15.5" stroke="#000" stroke-width="1.8" fill="none"/>
<rect x="200.2" y="1850.8" width="1176.3" height="699.8" fill="none" stroke="#000" stroke-width="3.15" stroke-linejoin="round"/>
<clipPath id="clipc"><rect x="199" y="1850.8" width="1179" height="701.5"/></clipPath>
<g clip-path="url(#clipc)">
<path d="M178.75,2538.3L258.93,2537.63L262.14,2537.28L265.35,2536.91L268.57,2536.53L271.78,2536.15L274.99,2535.76L278.21,2535.36L281.42,2534.95L284.63,2534.54L287.85,2534.11L291.06,2533.68L294.27,2533.24L297.49,2532.79L300.7,2532.32L303.91,2531.85L307.12,2531.37L310.34,2530.88L313.55,2530.39L316.76,2529.88L319.98,2529.36L323.19,2528.83L326.4,2528.29L329.62,2527.74L332.83,2527.18L336.04,2526.61L339.26,2526.03L342.47,2525.44L345.68,2524.84L348.9,2524.23L352.11,2523.6L355.32,2522.97L358.53,2522.32L361.75,2521.66L364.96,2520.99L368.17,2520.31L371.39,2519.62L374.6,2518.91L377.81,2518.19L381.03,2517.47L384.24,2516.72L387.45,2515.97L390.67,2515.2L393.88,2514.42L397.09,2513.63L400.3,2512.83L403.52,2512.01L406.73,2511.18L409.94,2510.33L413.16,2509.48L416.37,2508.61L419.58,2507.72L422.8,2506.82L426.01,2505.91L429.22,2504.99L432.44,2504.05L435.65,2503.09L438.86,2502.12L442.07,2501.14L445.29,2500.14L448.5,2499.13L451.71,2498.1L454.93,2497.06L458.14,2496L461.35,2494.93L464.57,2493.85L467.78,2492.74L470.99,2491.62L474.21,2490.49L477.42,2489.34L480.63,2488.18L483.84,2486.99L487.06,2485.8L490.27,2484.58L493.48,2483.35L496.7,2482.11L499.91,2480.85L503.12,2479.57L506.34,2478.27L509.55,2476.96L512.76,2475.63L515.98,2474.29L519.19,2472.93L522.4,2471.55L525.62,2470.16L528.83,2468.76L532.04,2467.33L535.25,2465.89L538.47,2464.44L541.68,2462.97L544.89,2461.48L548.11,2459.98L551.32,2458.46L554.53,2456.93L557.75,2455.38L560.96,2453.81L564.17,2452.23L567.39,2450.64L570.6,2449.02L573.81,2447.4L577.02,2445.75L580.24,2444.1L583.45,2442.42L586.66,2440.74L589.88,2439.03L593.09,2437.31L596.3,2435.58L599.52,2433.83L602.73,2432.07L605.94,2430.29L609.16,2428.49L612.37,2426.68L615.58,2424.86L618.79,2423.02L622.01,2421.17L625.22,2419.3L628.43,2417.42L631.65,2415.52L634.86,2413.61L638.07,2411.68L641.29,2409.74L644.5,2407.78L647.71,2405.81L650.93,2403.82L654.14,2401.82L657.35,2399.81L660.56,2397.78L663.78,2395.73L666.99,2393.68L670.2,2391.6L673.42,2389.52L676.63,2387.42L679.84,2385.3L683.06,2383.17L686.27,2381.03L689.48,2378.87L692.7,2376.7L695.91,2374.52L699.12,2372.32L702.34,2370.11L705.55,2367.88L708.76,2365.64L711.97,2363.38L715.19,2361.11L718.4,2358.83L721.61,2356.54L724.83,2354.23L728.04,2351.9L731.25,2349.57L734.47,2347.22L737.68,2344.85L740.89,2342.48L744.11,2340.09L747.32,2337.68L750.53,2335.27L753.74,2332.83L756.96,2330.39L760.17,2327.93L763.38,2325.46L766.6,2322.98L769.81,2320.48L773.02,2317.97L776.24,2315.44L779.45,2312.9L782.66,2310.35L785.88,2307.78L789.09,2305.2L792.3,2302.61L795.51,2300.01L798.73,2297.39L801.94,2294.75L805.15,2292.11L808.37,2289.44L811.58,2286.77L814.79,2284.08L818.01,2281.38L821.22,2278.67L824.43,2275.94L827.65,2273.2L830.86,2270.44L834.07,2267.68L837.28,2264.89L840.5,2262.1L843.71,2259.29L846.92,2256.47L850.14,2253.63L853.35,2250.78L856.56,2247.92L859.78,2245.04L862.99,2242.15L866.2,2239.24L869.42,2236.33L872.63,2233.4L875.84,2230.45L879.06,2227.49L882.27,2224.52L885.48,2221.54L888.69,2218.54L891.91,2215.52L895.12,2212.5L898.33,2209.46L901.55,2206.4L904.76,2203.34L907.97,2200.26L911.19,2197.16L914.4,2194.05L917.61,2190.93L920.83,2187.8L924.04,2184.65L927.25,2181.49L930.46,2178.31L933.68,2175.12L936.89,2171.92L940.1,2168.7L943.32,2165.47L946.53,2162.23L949.74,2158.97L952.96,2155.7L956.17,2152.41L959.38,2149.12L962.6,2145.8L965.81,2142.48L969.02,2139.14L972.23,2135.78L975.45,2132.42L978.66,2129.04L981.87,2125.64L985.09,2122.24L988.3,2118.81L991.51,2115.38L994.73,2111.93L997.94,2108.47L1001.15,2104.99L1004.37,2101.51L1007.58,2098L1010.79,2094.49L1014.01,2090.96L1017.22,2087.42L1020.43,2083.86L1023.64,2080.3L1026.86,2076.72L1030.07,2073.13L1033.28,2069.52L1036.5,2065.9L1039.71,2062.27L1042.92,2058.63L1046.14,2054.97L1049.35,2051.31L1052.56,2047.63L1055.78,2043.93L1058.99,2040.23L1062.2,2036.51L1065.41,2032.79L1068.63,2029.05L1071.84,2025.3L1075.05,2021.53L1078.27,2017.76L1081.48,2013.97L1084.69,2010.17L1087.91,2006.36L1091.12,2002.54L1094.33,1998.71L1097.55,1994.87L1100.76,1991.01L1103.97,1987.14L1107.18,1983.27L1110.4,1979.38L1113.61,1975.48L1116.82,1971.57L1120.04,1967.65L1123.25,1963.72L1126.46,1959.78L1129.68,1955.83L1132.89,1951.86L1136.1,1947.89L1139.32,1943.91L1142.53,1939.92L1145.74,1935.91L1148.95,1931.9L1152.17,1927.87L1155.38,1923.84L1158.59,1919.8L1161.81,1915.74L1165.02,1911.68L1168.23,1907.61L1171.45,1903.53L1174.66,1899.43L1177.87,1895.33L1181.09,1891.22L1184.3,1887.1L1187.51,1882.97L1190.73,1878.84L1193.94,1874.69L1197.15,1870.53L1200.36,1866.37L1203.58,1862.19L1206.79,1858.01L1210,1853.82L1213.22,1849.62L1216.43,1845.41L1219.64,1841.19" transform="scale(1.12,1)" fill="none" stroke="#000080" stroke-width="10.1" stroke-linecap="butt" stroke-linejoin="round"/>
<path d="M178.75,2526.1L191.96,2523.64L196.83,2523.54L201.7,2523.42L208.99,2523.17L213.86,2522.97L218.72,2522.74L223.03,2522.52M247.65,2520.79L252.78,2520.34L260.07,2519.63L267.37,2518.87L272.23,2518.32L279.54,2517.44L286.83,2516.49L292.66,2515.69M316.86,2511.89L323.31,2510.75L328.18,2509.85L335.47,2508.46L342.78,2506.99L350.07,2505.45L354.94,2504.39L360.82,2503.06M384.32,2497.3L391.42,2495.42L396.29,2494.09L403.59,2492.04L408.45,2490.63L415.75,2488.46L420.62,2486.97L426.79,2485.04M449.37,2477.53L454.67,2475.66L459.53,2473.92L466.83,2471.24L471.7,2469.41L478.99,2466.61L483.86,2464.7L490.04,2462.23M511.6,2453.19L515.47,2451.49L522.78,2448.24L527.63,2446.03L534.94,2442.65L539.8,2440.36L547.1,2436.86L550.31,2435.29M570.8,2424.95L573.86,2423.36L581.15,2419.5L586.02,2416.88L590.88,2414.23L595.75,2411.54L603.04,2407.45L607.54,2404.88M626.98,2393.46L629.8,2391.76L637.1,2387.3L641.96,2384.28L646.83,2381.23L651.69,2378.14L658.99,2373.43L661.83,2371.58M670.42,2365.9L673.58,2363.79L678.45,2360.5L683.31,2357.18L690.61,2352.12L695.47,2348.71L700.34,2345.26L703.8,2342.78M721.46,2329.85L724.66,2327.46L729.53,2323.79L734.39,2320.09L739.26,2316.34L744.12,2312.56L748.99,2308.75L753.16,2305.44M769.95,2291.88L773.31,2289.1L778.18,2285.06L783.04,2280.98L787.91,2276.87L792.77,2272.71L797.63,2268.52L800.09,2266.4M816.06,2252.3L819.53,2249.19L824.39,2244.79L829.26,2240.35L831.69,2238.11L836.55,2233.62L841.42,2229.08L844.79,2225.92M860.03,2211.37L863.31,2208.19L865.74,2205.82L870.61,2201.05L875.47,2196.24L880.34,2191.4L882.77,2188.96L887.46,2184.24M902.03,2169.31L904.66,2166.58L907.1,2164.04L911.96,2158.94L916.82,2153.79L921.69,2148.61L924.12,2146L928.28,2141.53M942.23,2126.29L946.02,2122.1L948.45,2119.39L953.31,2113.95L955.74,2111.21L960.61,2105.71L963.04,2102.94L967.4,2097.96M980.8,2082.43L984.94,2077.59L987.37,2074.72L992.23,2068.95L994.66,2066.05L999.53,2060.22L1001.96,2057.29L1004.99,2053.63M1017.87,2037.86L1021.42,2033.48L1023.85,2030.46L1028.71,2024.38L1031.15,2021.33L1036.02,2015.19L1038.45,2012.1L1041.16,2008.65M1053.58,1992.68L1055.47,1990.21L1060.34,1983.87L1062.77,1980.68L1067.63,1974.27L1070.07,1971.04L1074.93,1964.57L1076.04,1963.1M1088.02,1946.94L1089.53,1944.89L1094.39,1938.25L1096.82,1934.91L1101.69,1928.2L1104.12,1924.83L1108.99,1918.06L1109.71,1917.05M1121.29,1900.73L1123.58,1897.49L1128.45,1890.54L1130.87,1887.06L1133.31,1883.56L1135.74,1880.05L1140.61,1873L1142.28,1870.56M1153.5,1854.1L1155.21,1851.58L1157.63,1847.97L1160.07,1844.36L1162.5,1840.73" transform="scale(1.12,1)" fill="none" stroke="#FF6600" stroke-width="4.9"/>
<path d="M457.14,2556.26L459.08,2555.32L462.96,2553.42L464.89,2552.46L466.83,2551.5L468.77,2550.53L472.64,2548.58L472.97,2548.42M493.3,2537.91L497.84,2535.5L503.65,2532.38L509.46,2529.21L513.34,2527.08L519.15,2523.85L524.96,2520.58L529.96,2517.75M549.47,2506.4L554.04,2503.68L557.91,2501.36L563.72,2497.84L569.54,2494.29L575.36,2490.7L579.23,2488.28L584.7,2484.85M603.46,2472.83L608.29,2469.68L612.17,2467.13L617.99,2463.28L623.8,2459.4L629.62,2455.48L633.49,2452.85L637.42,2450.17M655.54,2437.6L660.62,2434.02L664.5,2431.27L670.31,2427.12L674.19,2424.34L680,2420.14L683.88,2417.32L688.36,2414.04M731.34,2381.68L734.26,2379.42L740.07,2374.9L743.95,2371.87L749.76,2367.31L753.64,2364.25L759.46,2359.63L762.71,2357.04M779.52,2343.49L782.71,2340.89L788.52,2336.14L792.39,2332.96L798.21,2328.16L802.09,2324.94L807.9,2320.1L810.07,2318.28M826.46,2304.46L829.21,2302.12L835.03,2297.15L838.9,2293.83L842.78,2290.5L846.66,2287.15L852.47,2282.11L856.3,2278.77M872.34,2264.71L875.72,2261.72L881.54,2256.56L885.41,2253.11L889.29,2249.64L893.17,2246.17L898.98,2240.94L901.54,2238.63M917.24,2224.35L920.29,2221.55L926.11,2216.21L929.98,2212.63L933.86,2209.04L937.74,2205.44L943.55,2200.02L945.83,2197.89M961.19,2183.42L964.87,2179.93L968.74,2176.24L972.62,2172.54L978.43,2166.96L982.31,2163.23L986.19,2159.48L989.17,2156.59M1004.2,2141.93L1007.5,2138.68L1011.37,2134.86L1015.25,2131.02L1021.06,2125.25L1024.94,2121.38L1028.82,2117.5L1031.56,2114.75M1046.26,2099.9L1048.2,2097.93L1052.07,2093.97L1055.95,2090.01L1061.76,2084.03L1065.63,2080.03L1069.51,2076.02L1073.02,2072.39M1087.38,2057.36L1090.83,2053.73L1094.71,2049.63L1098.58,2045.52L1102.46,2041.4L1106.33,2037.26L1110.21,2033.11L1113.54,2029.53M1127.59,2014.33L1129.59,2012.15L1133.46,2007.92L1137.34,2003.67L1143.15,1997.27L1147.03,1992.99L1150.9,1988.7L1153.16,1986.19M1166.88,1970.84L1170.29,1967.01L1174.16,1962.63L1178.04,1958.23L1181.91,1953.82L1185.79,1949.4L1189.66,1944.96L1191.88,1942.41M1205.29,1926.9L1209.04,1922.55L1212.92,1918.02L1216.79,1913.48L1218.73,1911.2L1222.61,1906.64L1226.48,1902.06L1229.72,1898.21" transform="scale(1.12,1)" fill="none" stroke="#FF6600" stroke-width="4.9"/>
</g>
<text transform="translate(140.52,2567.9) scale(1.222,1)" font-size="51" font-weight="bold">4</text>
<text transform="translate(127.3,2569.4) scale(1.204,1)" font-size="51" font-weight="bold">·</text>
<text transform="translate(93,2567.9) scale(1.222,1)" font-size="51" font-weight="bold">0</text>
<text transform="translate(141.77,2467.93) scale(1.222,1)" font-size="51" font-weight="bold">1</text>
<text transform="translate(142.39,2367.96) scale(1.222,1)" font-size="51" font-weight="bold">6</text>
<text transform="translate(127.3,2369.46) scale(1.204,1)" font-size="51" font-weight="bold">·</text>
<text transform="translate(92.07,2367.96) scale(1.222,1)" font-size="51" font-weight="bold">1</text>
<text transform="translate(142.7,2267.99) scale(1.222,1)" font-size="51" font-weight="bold">2</text>
<text transform="translate(127.3,2269.49) scale(1.204,1)" font-size="51" font-weight="bold">·</text>
<text transform="translate(93,2267.99) scale(1.222,1)" font-size="51" font-weight="bold">2</text>
<text transform="translate(142.08,2168.01) scale(1.222,1)" font-size="51" font-weight="bold">8</text>
<text transform="translate(127.3,2169.51) scale(1.204,1)" font-size="51" font-weight="bold">·</text>
<text transform="translate(93,2168.01) scale(1.222,1)" font-size="51" font-weight="bold">2</text>
<text transform="translate(140.52,2068.04) scale(1.222,1)" font-size="51" font-weight="bold">4</text>
<text transform="translate(127.3,2069.54) scale(1.204,1)" font-size="51" font-weight="bold">·</text>
<text transform="translate(92.69,2068.04) scale(1.222,1)" font-size="51" font-weight="bold">3</text>
<text transform="translate(140.52,1968.07) scale(1.222,1)" font-size="51" font-weight="bold">4</text>
<text transform="translate(142.39,1868.1) scale(1.222,1)" font-size="51" font-weight="bold">6</text>
<text transform="translate(127.3,1869.6) scale(1.204,1)" font-size="51" font-weight="bold">·</text>
<text transform="translate(90.82,1868.1) scale(1.222,1)" font-size="51" font-weight="bold">4</text>
<text transform="translate(184.87,2606.6) scale(1.222,1)" font-size="51" font-weight="bold">0</text>
<text transform="translate(290.81,2606.6) scale(1.222,1)" font-size="51" font-weight="bold">1</text>
<text transform="translate(397.74,2606.6) scale(1.222,1)" font-size="51" font-weight="bold">2</text>
<text transform="translate(504.68,2606.6) scale(1.222,1)" font-size="51" font-weight="bold">3</text>
<text transform="translate(611.61,2606.6) scale(1.222,1)" font-size="51" font-weight="bold">4</text>
<text transform="translate(718.55,2606.6) scale(1.222,1)" font-size="51" font-weight="bold">5</text>
<text transform="translate(825.49,2606.6) scale(1.222,1)" font-size="51" font-weight="bold">6</text>
<text transform="translate(932.42,2606.6) scale(1.222,1)" font-size="51" font-weight="bold">7</text>
<text transform="translate(1039.36,2606.6) scale(1.222,1)" font-size="51" font-weight="bold">8</text>
<text transform="translate(1146.3,2606.6) scale(1.222,1)" font-size="51" font-weight="bold">9</text>
<text transform="translate(1235.9,2606.6) scale(1.222,1)" font-size="51" font-weight="bold">10</text>
<text transform="translate(1343.06,2606.6) scale(1.222,1)" font-size="51" font-weight="bold">11</text>
<text x="221.9" y="1895.6" font-size="35.2">(<tspan font-style="italic">c</tspan>)</text>
<text transform="translate(448.64,2675.2) scale(1,1.0)" font-size="51.5" font-weight="bold">Viral titre (Log<tspan font-size="34.5" dy="13.8" dx="-1">10</tspan><tspan dy="-13.8" dx="-1">TCID</tspan><tspan font-size="34.5" dy="13.8">50 </tspan><tspan dy="-13.8">ml</tspan><tspan font-size="34.5" dy="-28.8">−1</tspan><tspan dy="28.8" dx="3.5">)</tspan></text>
<text transform="translate(37.4,2592.35) rotate(-90) scale(1,1.0)" font-size="51.5" font-weight="bold">Basic reproduction number (<tspan font-style="italic">R</tspan><tspan font-size="35" font-weight="normal" stroke="#000" stroke-width="0.8" dy="4.5">0</tspan><tspan dy="-4.5">)</tspan></text>
</g>
</svg></body></html>
